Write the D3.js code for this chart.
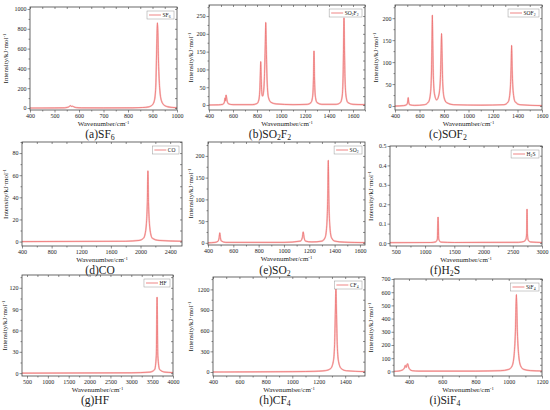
<!DOCTYPE html>
<html>
<head>
<meta charset="utf-8">
<script src="https://cdn.jsdelivr.net/npm/d3@7"></script>
<style>
  body { margin: 0; background: #fff; }
  svg { display: block; }
  text { font-family: "Liberation Serif", "Times New Roman", serif; fill: #222; }
</style>
</head>
<body>
<svg id="chart" width="550" height="410"></svg>
<script>
// Spectra: [wavenumber, intensity]
const sf6 = [[400,0],[500,0.5],[540,2],[552,6],[560,14],[565,24],[569,16],[574,18],[580,10],[590,4],[610,1.5],[700,0.8],
  [820,2],[860,5],[885,12],[898,28],[906,60],[911,130],[914,260],[916,480],[918,700],[920,860],[922,760],[924,520],
  [927,300],[931,150],[937,70],[946,32],[960,14],[980,6],[1000,3]];
const so2f2 = [[400,0],[480,0.5],[515,2],[528,8],[534,20],[538,12],[542,28],[546,22],[552,10],[565,3],[600,1],[760,1],
  [800,4],[815,14],[823,40],[828,90],[831,122],[834,90],[840,35],[846,25],[852,30],[862,80],[869,170],[873,232],
  [877,170],[884,70],[895,22],[915,8],[960,3],[1100,1],[1220,2],[1250,7],[1264,25],[1271,80],[1275,152],[1279,80],
  [1286,25],[1300,7],[1340,2],[1460,2],[1495,7],[1510,25],[1518,90],[1522,180],[1525,245],[1528,180],[1533,80],
  [1542,25],[1557,7],[1600,2],[1700,1]];
const sof2 = [[400,0],[470,1],[495,3],[503,9],[508,19],[512,9],[520,3],[560,1.5],[640,3],[675,10],[690,30],[698,80],
  [702,150],[705,207],[708,150],[713,70],[722,28],[740,14],[758,25],[770,60],[776,120],[780,165],[784,120],[790,50],
  [800,20],[820,8],[880,3],[1100,2],[1290,3],[1325,10],[1340,35],[1348,90],[1352,138],[1356,90],[1364,35],[1380,10],
  [1420,3],[1600,1]];
const co = [[400,0],[1800,0.3],[1980,1],[2040,3],[2070,10],[2092,35],[2100,64],[2108,35],[2130,10],[2160,3],
  [2250,1],[2560,0.3]];
const so2 = [[400,0],[455,1],[480,4],[488,12],[493,23],[498,12],[506,4],[540,1],[1000,1],[1130,4],[1145,12],[1152,25],
  [1159,12],[1170,4],[1220,2],[1300,4],[1325,12],[1338,40],[1346,110],[1350,190],[1354,110],[1362,40],[1375,12],
  [1400,4],[1480,1.5],[1640,0.5]];
const h2s = [[400,0.002],[1100,0.003],[1180,0.006],[1210,0.02],[1222,0.134],[1234,0.02],[1270,0.005],[1500,0.003],
  [2600,0.004],[2690,0.008],[2725,0.02],[2738,0.05],[2744,0.175],[2750,0.05],[2765,0.015],[2800,0.006],[3000,0.003]];
const hf = [[380,0],[3000,0.5],[3450,1.5],[3560,5],[3600,25],[3618,107],[3636,25],[3680,5],[3800,1.5],[4000,0.8]];
const cf4 = [[400,0],[600,1],[1000,5],[1200,12],[1250,20],[1290,50],[1310,150],[1320,400],[1326,900],[1330,1215],
  [1334,900],[1340,400],[1350,150],[1370,50],[1410,18],[1550,6]];
const sif4 = [[310,0],[340,3],[360,10],[372,25],[378,45],[383,30],[388,50],[392,58],[397,35],[405,15],[420,5],[460,2],
  [800,2],[950,5],[1000,15],[1020,40],[1032,120],[1040,300],[1046,582],[1052,300],[1060,120],[1072,40],[1090,15],
  [1130,6],[1200,3]];

// Gas names and captions
const gases = ["SF6", "SO2F2", "SOF2", "CO", "SO2", "H2S", "HF", "CF4", "SiF4"];
const letters = ["a", "b", "c", "d", "e", "f", "g", "h", "i"];

// Tick values
const xTicksSF6 = [400, 500, 600, 700, 800, 900, 1000];
const yTicksSF6 = [0, 200, 400, 600, 800, 1000];
const xTicksSO2F2 = [400, 600, 800, 1000, 1200, 1400, 1600];
const yTicksSO2F2 = [0, 50, 100, 150, 200, 250];
const xTicksSOF2 = [400, 600, 800, 1000, 1200, 1400, 1600];
const yTicksSOF2 = [0, 50, 100, 150, 200];
const xTicksCO = [400, 800, 1200, 1600, 2000, 2400];
const yTicksCO = [0, 20, 40, 60, 80];
const xTicksSO2 = [400, 600, 800, 1000, 1200, 1400, 1600];
const yTicksSO2 = [0, 50, 100, 150, 200];
const xTicksH2S = [500, 1000, 1500, 2000, 2500, 3000];
const yTicksH2S = [0, 0.1, 0.2, 0.3, 0.4, 0.5];
const xTicksHF = [500, 1000, 1500, 2000, 2500, 3000, 3500, 4000];
const yTicksHF = [0, 30, 60, 90, 120];
const xTicksCF4 = [400, 600, 800, 1000, 1200, 1400];
const yTicksCF4 = [0, 300, 600, 900, 1200];
const xTicksSiF4 = [400, 600, 800, 1000, 1200];
const yTicksSiF4 = [0, 100, 200, 300, 400, 500, 600, 700];

// Panel layout: frame [left, top, right, bottom], caption position, y title offset
const panels = [
  { data: sf6, xDom: [400, 1000], yDom: [-20, 1020], xt: xTicksSF6, yt: yTicksSF6, box: [30, 7, 177, 110], cap: [100, 138], ytd: 22 },
  { data: so2f2, xDom: [400, 1700], yDom: [-14, 281], xt: xTicksSO2F2, yt: yTicksSO2F2, box: [209, 5, 365, 110], cap: [270, 138], ytd: 16 },
  { data: sof2, xDom: [400, 1600], yDom: [-9, 230], xt: xTicksSOF2, yt: yTicksSOF2, box: [395, 5, 542, 110], cap: [448, 138], ytd: 17 },
  { data: co, xDom: [400, 2560], yDom: [-4, 90], xt: xTicksCO, yt: yTicksCO, box: [22, 142, 182, 246], cap: [100, 274], ytd: 14 },
  { data: so2, xDom: [400, 1640], yDom: [-5, 232], xt: xTicksSO2, yt: yTicksSO2, box: [208, 142, 365, 245], cap: [275, 274], ytd: 15 },
  { data: h2s, xDom: [400, 3000], yDom: [-0.015, 0.5], xt: xTicksH2S, yt: yTicksH2S, box: [390, 146, 542, 246], cap: [445, 274], ytd: 17, yfmt: d3.format(".1f") },
  { data: hf, xDom: [380, 4000], yDom: [-4, 138], xt: xTicksHF, yt: yTicksHF, box: [22, 275, 173, 376], cap: [95, 404], ytd: 15 },
  { data: cf4, xDom: [400, 1550], yDom: [-58, 1380], xt: xTicksCF4, yt: yTicksCF4, box: [213, 277, 365, 376], cap: [275, 404], ytd: 20 },
  { data: sif4, xDom: [310, 1200], yDom: [-35, 700], xt: xTicksSiF4, yt: yTicksSiF4, box: [394, 279, 542, 376], cap: [445, 404], ytd: 21 }
];

const svg = d3.select("#chart");
const lineColor = "#ec6a6a";

// Write chemical formula with subscripted digits
const formula = (sel, str, size) => {
  str.match(/[A-Za-z]+|\d+/g).forEach(tok => {
    if (/\d/.test(tok)) {
      sel.append("tspan").attr("baseline-shift", "-22%").attr("font-size", size * 0.68).text(tok);
    } else {
      sel.append("tspan").text(tok);
    }
  });
};

// Text with trailing superscript -1
const withSup = (sel, main, size) => {
  sel.append("tspan").text(main);
  sel.append("tspan").attr("baseline-shift", "38%").attr("font-size", size * 0.68).text("-1");
};

const minorOf = ticks => {
  const m = [];
  for (let i = 0; i < ticks.length - 1; i++) m.push((ticks[i] + ticks[i + 1]) / 2);
  const step = ticks[1] - ticks[0];
  m.push(ticks[0] - step / 2, ticks[ticks.length - 1] + step / 2);
  return m;
};

panels.forEach((p, i) => {
  const [l, t, r, b] = p.box;
  const x = d3.scaleLinear().domain(p.xDom).range([l, r]);
  const y = d3.scaleLinear().domain(p.yDom).range([b, t]);
  const g = svg.append("g");

  const clipId = "clip" + i;
  g.append("clipPath").attr("id", clipId)
    .append("rect").attr("x", l).attr("y", t).attr("width", r - l).attr("height", b - t);

  // Spectrum: pale halo under a thin red line
  const line = d3.line().x(d => x(d[0])).y(d => y(d[1])).curve(d3.curveMonotoneX);
  const plot = g.append("g").attr("clip-path", `url(#${clipId})`);
  plot.append("path").datum(p.data).attr("d", line)
    .attr("fill", "none").attr("stroke", "#f8c4c4").attr("stroke-width", 1.7);
  plot.append("path").datum(p.data).attr("d", line)
    .attr("fill", "none").attr("stroke", lineColor).attr("stroke-width", 0.7);

  // Axes: outward ticks bottom/left, inward mirrored top/right
  const inRange = (v, dom) => v >= dom[0] && v <= dom[1];
  const xMinor = minorOf(p.xt).filter(v => inRange(v, p.xDom));
  const yMinor = minorOf(p.yt).filter(v => inRange(v, p.yDom));

  const bottom = g.append("g").attr("transform", `translate(0,${b})`)
    .call(d3.axisBottom(x).tickValues(p.xt).tickSize(2.5).tickPadding(1).tickFormat(d => d));
  const left = g.append("g").attr("transform", `translate(${l},0)`)
    .call(d3.axisLeft(y).tickValues(p.yt).tickSize(2.5).tickPadding(1).tickFormat(p.yfmt || (d => d)));
  [bottom, left].forEach(a => {
    a.attr("font-size", 6).attr("font-family", "Liberation Serif");
    a.select(".domain").remove();
    a.selectAll("text").attr("fill", "#222");
  });

  g.append("g").attr("transform", `translate(0,${b})`)
    .call(d3.axisBottom(x).tickValues(xMinor).tickSize(1.5).tickFormat(""))
    .call(a => a.select(".domain").remove());
  g.append("g").attr("transform", `translate(${l},0)`)
    .call(d3.axisLeft(y).tickValues(yMinor).tickSize(1.5).tickFormat(""))
    .call(a => a.select(".domain").remove());
  g.append("g").attr("transform", `translate(0,${t})`)
    .call(d3.axisBottom(x).tickValues(p.xt.concat(xMinor)).tickSize(2).tickFormat(""))
    .call(a => a.select(".domain").remove());
  g.append("g").attr("transform", `translate(${r},0)`)
    .call(d3.axisRight(y).tickValues(p.yt.concat(yMinor)).tickSize(-2).tickFormat(""))
    .call(a => a.select(".domain").remove());
  g.selectAll("g.tick line").attr("stroke", "#444").attr("stroke-width", 0.6);

  // Frame
  g.append("rect").attr("x", l).attr("y", t).attr("width", r - l).attr("height", b - t)
    .attr("fill", "none").attr("stroke", "#444").attr("stroke-width", 0.8);

  // Axis titles
  g.append("text").attr("x", (l + r) / 2).attr("y", b + 16).attr("text-anchor", "middle")
    .attr("font-size", 7).call(s => withSup(s, "Wavenumber/cm", 7));
  g.append("text").attr("transform", `translate(${l - p.ytd},${(t + b) / 2}) rotate(-90)`)
    .attr("text-anchor", "middle").attr("font-size", 7)
    .call(s => withSup(s, "Intensity/kJ\u00b7mol", 7));

  // Legend
  const lg = g.append("g");
  const lt = lg.append("text").attr("font-size", 5.5).call(s => formula(s, gases[i], 5.5));
  const tw = lt.node().getComputedTextLength();
  const bw = tw + 19, bh = 8;
  const bx = r - 3 - bw, by = t + 4;
  lg.insert("rect", "text").attr("x", bx).attr("y", by).attr("width", bw).attr("height", bh)
    .attr("fill", "#fff").attr("stroke", "#999").attr("stroke-width", 0.5);
  lg.insert("line", "text").attr("x1", bx + 2).attr("x2", bx + 14).attr("y1", by + bh / 2).attr("y2", by + bh / 2)
    .attr("stroke", "#f29a9a").attr("stroke-width", 1.2);
  lt.attr("x", bx + 15.5).attr("y", by + bh / 2 + 2);

  // Caption
  svg.append("text").attr("x", p.cap[0]).attr("y", p.cap[1]).attr("text-anchor", "middle")
    .attr("font-size", 11.5)
    .call(s => { s.append("tspan").text(`(${letters[i]})`); formula(s, gases[i], 11.5); });
});
</script>
</body>
</html>
